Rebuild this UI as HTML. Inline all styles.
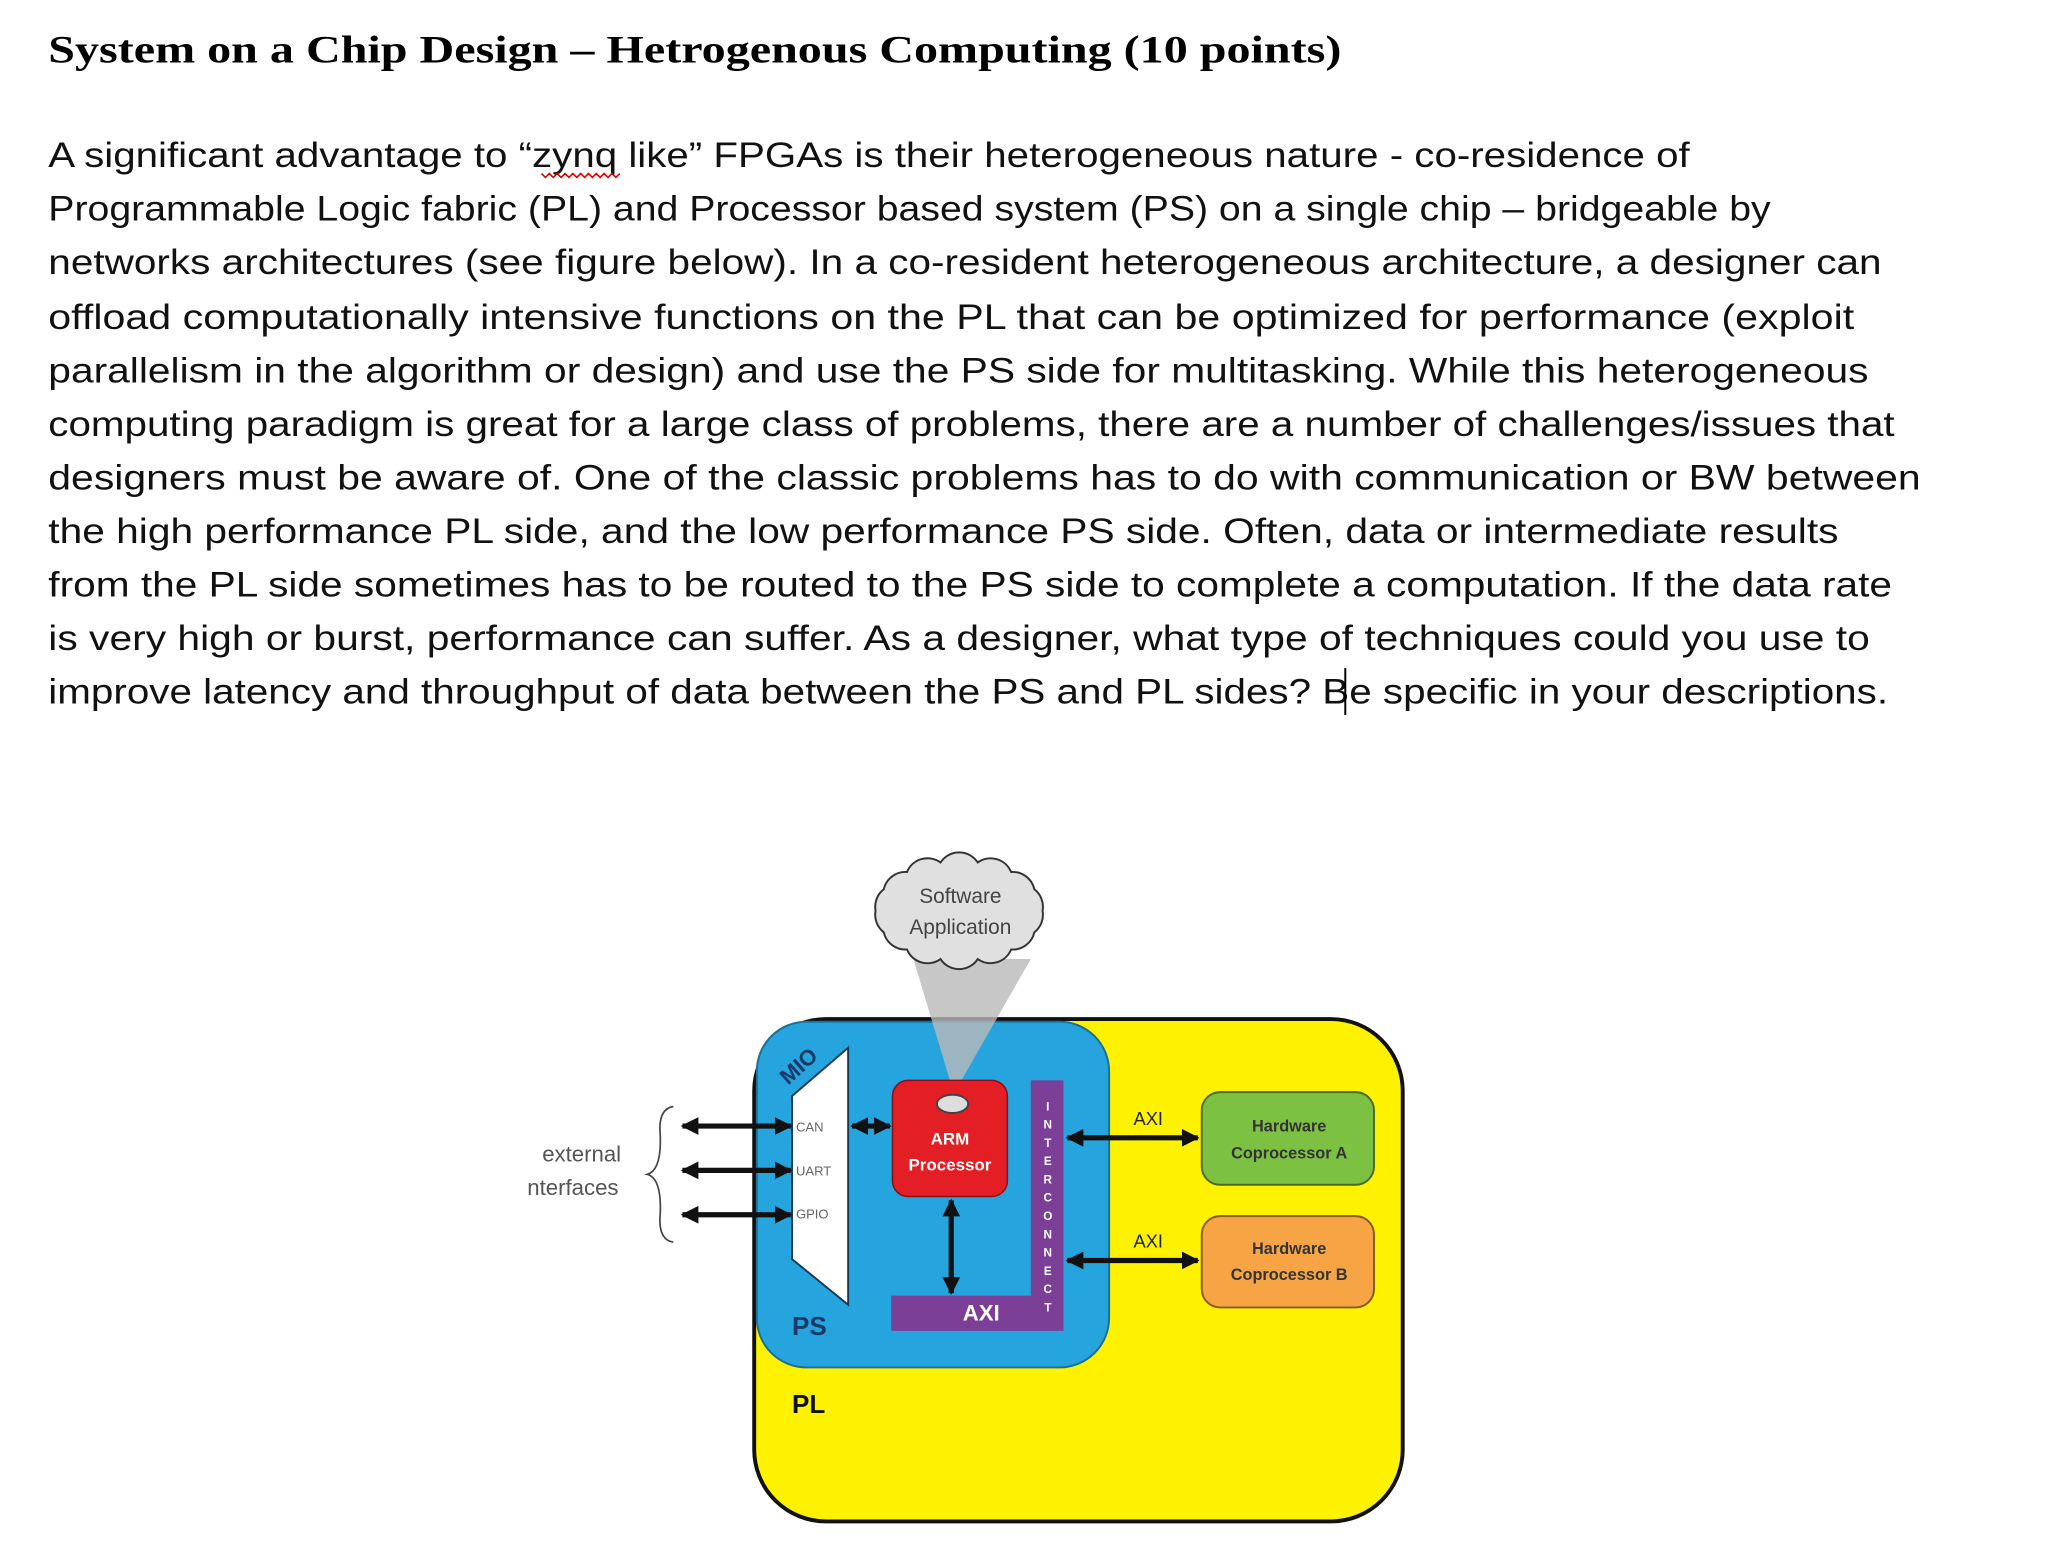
<!DOCTYPE html>
<html><head><meta charset="utf-8"><style>
html,body{margin:0;padding:0;background:#fff;}
svg{display:block;}
</style></head><body>
<svg width="2046" height="1568" viewBox="0 0 1568 1201.7" xmlns="http://www.w3.org/2000/svg">
<defs>
<marker id="ah" viewBox="0 0 10 10" refX="9" refY="5" markerWidth="3.4" markerHeight="3.4" orient="auto-start-reverse"><path d="M0,0 L10,5 L0,10 z" fill="#111"/></marker>
</defs>
<rect width="1568" height="1202" fill="#fff"/>
<text x="37" y="48" font-family="Liberation Serif, serif" font-weight="bold" font-size="30" textLength="991" lengthAdjust="spacingAndGlyphs" fill="#000">System on a Chip Design – Hetrogenous Computing (10 points)</text>
<g font-family="Liberation Sans, sans-serif" font-size="27" fill="#111" lengthAdjust="spacingAndGlyphs">
<text x="37" y="128" textLength="1258" lengthAdjust="spacingAndGlyphs">A significant advantage to “zynq like” FPGAs is their heterogeneous nature - co-residence of</text>
<text x="37" y="169" textLength="1320" lengthAdjust="spacingAndGlyphs">Programmable Logic fabric (PL) and Processor based system (PS) on a single chip – bridgeable by</text>
<text x="37" y="210" textLength="1405" lengthAdjust="spacingAndGlyphs">networks architectures (see figure below). In a co-resident heterogeneous architecture, a designer can</text>
<text x="37" y="252" textLength="1384" lengthAdjust="spacingAndGlyphs">offload computationally intensive functions on the PL that can be optimized for performance (exploit</text>
<text x="37" y="293" textLength="1395" lengthAdjust="spacingAndGlyphs">parallelism in the algorithm or design) and use the PS side for multitasking.  While this heterogeneous</text>
<text x="37" y="334" textLength="1415" lengthAdjust="spacingAndGlyphs">computing paradigm is great for a large class of problems, there are a number of challenges/issues that</text>
<text x="37" y="375" textLength="1435" lengthAdjust="spacingAndGlyphs">designers must be aware of.   One of the classic problems has to do with communication or BW between</text>
<text x="37" y="416" textLength="1372" lengthAdjust="spacingAndGlyphs">the high performance PL side, and the low performance PS side.  Often, data or intermediate results</text>
<text x="37" y="457" textLength="1413" lengthAdjust="spacingAndGlyphs">from the PL side sometimes has to be routed to the PS side to complete a computation. If the data rate</text>
<text x="37" y="498" textLength="1396" lengthAdjust="spacingAndGlyphs">is very high or burst, performance can suffer.  As a designer, what type of techniques could you use to</text>
<text x="37" y="539" textLength="1410" lengthAdjust="spacingAndGlyphs">improve latency and throughput of data between the PS and PL sides?  Be specific in your descriptions.</text>
</g>
<path d="M415,133 l3,3 l3,-3 l3,3 l3,-3 l3,3 l3,-3 l3,3 l3,-3 l3,3 l3,-3 l3,3 l3,-3 l3,3 l3,-3 l3,3 l3,-3 l3,3 l3,-3 l3,3 l3,-3" fill="none" stroke="#d00" stroke-width="1.2"/>
<line x1="1031" y1="512" x2="1031" y2="548" stroke="#000" stroke-width="1.5"/>

<!-- Diagram -->
<rect x="578" y="781" width="497" height="385" rx="55" fill="#fff200" stroke="#111" stroke-width="3"/>
<rect x="580" y="783" width="270" height="265" rx="38" fill="#26a4de" stroke="#1b6e94" stroke-width="1.5"/>
<polygon points="700,735 790,735 731,838" fill="#b9b9b9" opacity="0.8"/>
<path d="M799,698 A17,17 0 0 1 792.7,714.5 A17,17 0 0 1 774.9,727.7 A17,17 0 0 1 749.3,735 A17,17 0 0 1 720.8,735 A17,17 0 0 1 695.1,727.7 A17,17 0 0 1 677.3,714.5 A17,17 0 0 1 671,698 A17,17 0 0 1 677.3,681.5 A17,17 0 0 1 695.1,668.3 A17,17 0 0 1 720.8,661 A17,17 0 0 1 749.3,661 A17,17 0 0 1 774.9,668.3 A17,17 0 0 1 792.7,681.5 A17,17 0 0 1 799,698 Z" fill="#e0e0e0" stroke="#333" stroke-width="1.5"/>
<g font-family="Liberation Sans, sans-serif" font-size="16" fill="#444" text-anchor="middle">
<text x="736" y="692">Software</text><text x="736" y="716">Application</text></g>

<polygon points="607,840 650,803 650,1000 607,965" fill="#fff" stroke="#1a3a5a" stroke-width="1.5"/>
<text x="0" y="0" transform="translate(604,832) rotate(-42)" font-family="Liberation Sans, sans-serif" font-weight="bold" font-size="17" fill="#173a66">MIO</text>
<g font-family="Liberation Sans, sans-serif" font-size="10" fill="#666">
<text x="610" y="867">CAN</text><text x="610" y="901">UART</text><text x="610" y="934">GPIO</text></g>
<g stroke="#111" stroke-width="4" marker-start="url(#ah)" marker-end="url(#ah)">
<line x1="523" y1="863" x2="606" y2="863"/>
<line x1="523" y1="897" x2="606" y2="897"/>
<line x1="523" y1="931" x2="606" y2="931"/>
<line x1="653" y1="863" x2="682" y2="863"/>
<line x1="729" y1="920" x2="729" y2="991"/>
<line x1="818" y1="872" x2="918" y2="872"/>
<line x1="818" y1="966" x2="918" y2="966"/>
</g>
<path d="M516,848 Q504,850 506,870 Q507,897 496,900 Q507,903 506,930 Q504,950 516,952" fill="none" stroke="#444" stroke-width="1.3"/>
<g font-family="Liberation Sans, sans-serif" font-size="17" fill="#555" text-anchor="end">
<text x="476" y="890">external</text><text x="474" y="916">nterfaces</text></g>

<rect x="684" y="828" width="88" height="89" rx="12" fill="#e31e24" stroke="#8a1015" stroke-width="1.2"/>
<ellipse cx="730" cy="846" rx="12" ry="7" fill="#ddd" stroke="#444" stroke-width="1.5"/>
<g font-family="Liberation Sans, sans-serif" font-weight="bold" font-size="13" fill="#fff" text-anchor="middle">
<text x="728" y="877">ARM</text><text x="728" y="897">Processor</text></g>

<path d="M790,828 H815 V1020 H683 V993 H790 Z" fill="#7b3f98"/>
<text x="752" y="1012" font-family="Liberation Sans, sans-serif" font-weight="bold" font-size="17" fill="#fff" text-anchor="middle">AXI</text>
<g font-family="Liberation Sans, sans-serif" font-weight="bold" font-size="9" fill="#fff" text-anchor="middle">
<text x="803" y="851">I</text><text x="803" y="865">N</text><text x="803" y="879">T</text><text x="803" y="893">E</text><text x="803" y="907">R</text><text x="803" y="921">C</text><text x="803" y="935">O</text><text x="803" y="949">N</text><text x="803" y="963">N</text><text x="803" y="977">E</text><text x="803" y="991">C</text><text x="803" y="1005">T</text></g>
<g font-family="Liberation Sans, sans-serif" font-size="14" fill="#222" text-anchor="middle">
<text x="880" y="862">AXI</text><text x="880" y="956">AXI</text></g>

<rect x="921" y="837" width="132" height="71" rx="14" fill="#7dc142" stroke="#4a6b2a" stroke-width="1.5"/>
<rect x="921" y="932" width="132" height="70" rx="14" fill="#f6a444" stroke="#8a5a20" stroke-width="1.5"/>
<g font-family="Liberation Sans, sans-serif" font-weight="bold" font-size="12.5" fill="#333" text-anchor="middle">
<text x="988" y="867">Hardware</text><text x="988" y="888">Coprocessor  A</text>
<text x="988" y="961">Hardware</text><text x="988" y="981">Coprocessor  B</text></g>

<text x="607" y="1023" font-family="Liberation Sans, sans-serif" font-weight="bold" font-size="20" fill="#173a66">PS</text>
<text x="607" y="1083" font-family="Liberation Sans, sans-serif" font-weight="bold" font-size="20" fill="#111">PL</text>
</svg>
</body></html>
